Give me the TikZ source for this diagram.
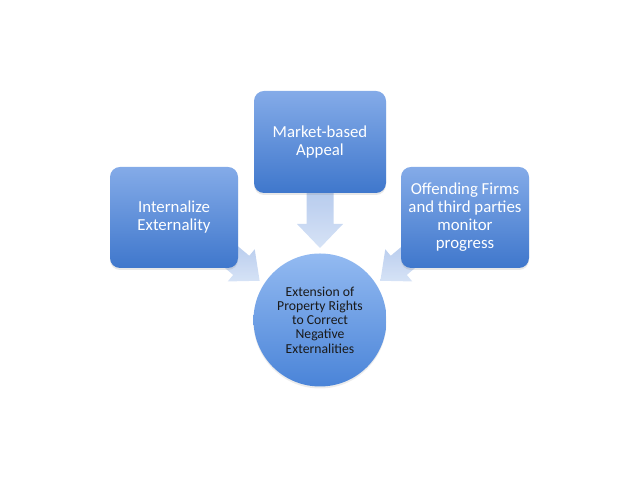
\documentclass[tikz,border=0pt]{standalone}
\usepackage{fontspec}
\setmainfont{Carlito}
\usetikzlibrary{calc,shadows}
\definecolor{boxtop}{HTML}{84ABE8}
\definecolor{boxbot}{HTML}{3F77CC}
\definecolor{circtop}{HTML}{93BAF1}
\definecolor{circbot}{HTML}{4A84D8}
\definecolor{arrtop}{HTML}{AEC5EB}
\definecolor{arrbot}{HTML}{D4E1F5}
\definecolor{circtext}{HTML}{1A1A1A}
\tikzset{
  bluebox/.style={rectangle, rounded corners=10pt, minimum width=128pt, minimum height=101pt,
    top color=boxtop, bottom color=boxbot, draw=none, text=white, align=center,
    font=\fontsize{16.8pt}{18pt}\selectfont,
    drop shadow={opacity=0.18, shadow xshift=0pt, shadow yshift=-2pt}},
  bluecircle/.style={circle, minimum size=133pt, inner sep=0pt,
    top color=circtop, bottom color=circbot, draw=none, text=circtext, align=center,
    font=\fontsize{13.7pt}{14.3pt}\selectfont,
    drop shadow={opacity=0.15, shadow xshift=0pt, shadow yshift=-2pt}},
  arrowfill/.style={top color=arrtop, bottom color=arrbot, draw=none, fill opacity=0.95}
}
% block arrow: #1 tail, #2 tip, #3 shaft half width, #4 head half width, #5 head length
\newcommand\blkarrow[5]{%
  \coordinate (hb) at ($(#2)!#5!(#1)$);
  \path[arrowfill] ($(#1)!#3!90:(#2)$) -- ($(hb)!#3!-90:(#1)$) -- ($(hb)!#4!-90:(#1)$)
    -- (#2) -- ($(hb)!#4!90:(#1)$) -- ($(hb)!#3!90:(#1)$) -- ($(#1)!#3!-90:(#2)$) -- cycle;
}
\begin{document}
\begin{tikzpicture}[x=1pt,y=1pt]
\useasboundingbox (0,0) rectangle (638,478);
\path (320,158) coordinate (Cc);
\path (320,336) coordinate (Tc);
\path (174,260.5) coordinate (Lc);
\path (465,260.5) coordinate (Rc);
% arrows (behind the boxes)
\coordinate (Ttail) at ($(Tc)+(0,-40)$);
\coordinate (Ttip) at ($(Cc)+(90:72pt)$);
\blkarrow{Ttail}{Ttip}{13.5pt}{23pt}{24pt}
\coordinate (Ltip) at ($(Cc)+(147:72pt)$);
\coordinate (Ltail) at ($(Ltip)+(140:54pt)$);
\blkarrow{Ltail}{Ltip}{12.5pt}{21pt}{24pt}
\coordinate (Rtip) at ($(Cc)+(33:72pt)$);
\coordinate (Rtail) at ($(Rtip)+(40:54pt)$);
\blkarrow{Rtail}{Rtip}{12.5pt}{21pt}{24pt}
% boxes
\node[bluebox] (L) at (Lc) {Internalize\\Externality};
\node[bluebox, minimum width=132pt, minimum height=102pt] (T) at (Tc) {Market-based\\Appeal};
\node[bluebox] (R) at (Rc) {Offending Firms\\and third parties\\monitor\\progress};
\node[bluecircle] (C) at (Cc) {Extension of\\Property Rights\\to Correct\\Negative\\Externalities};
\end{tikzpicture}
\end{document}
